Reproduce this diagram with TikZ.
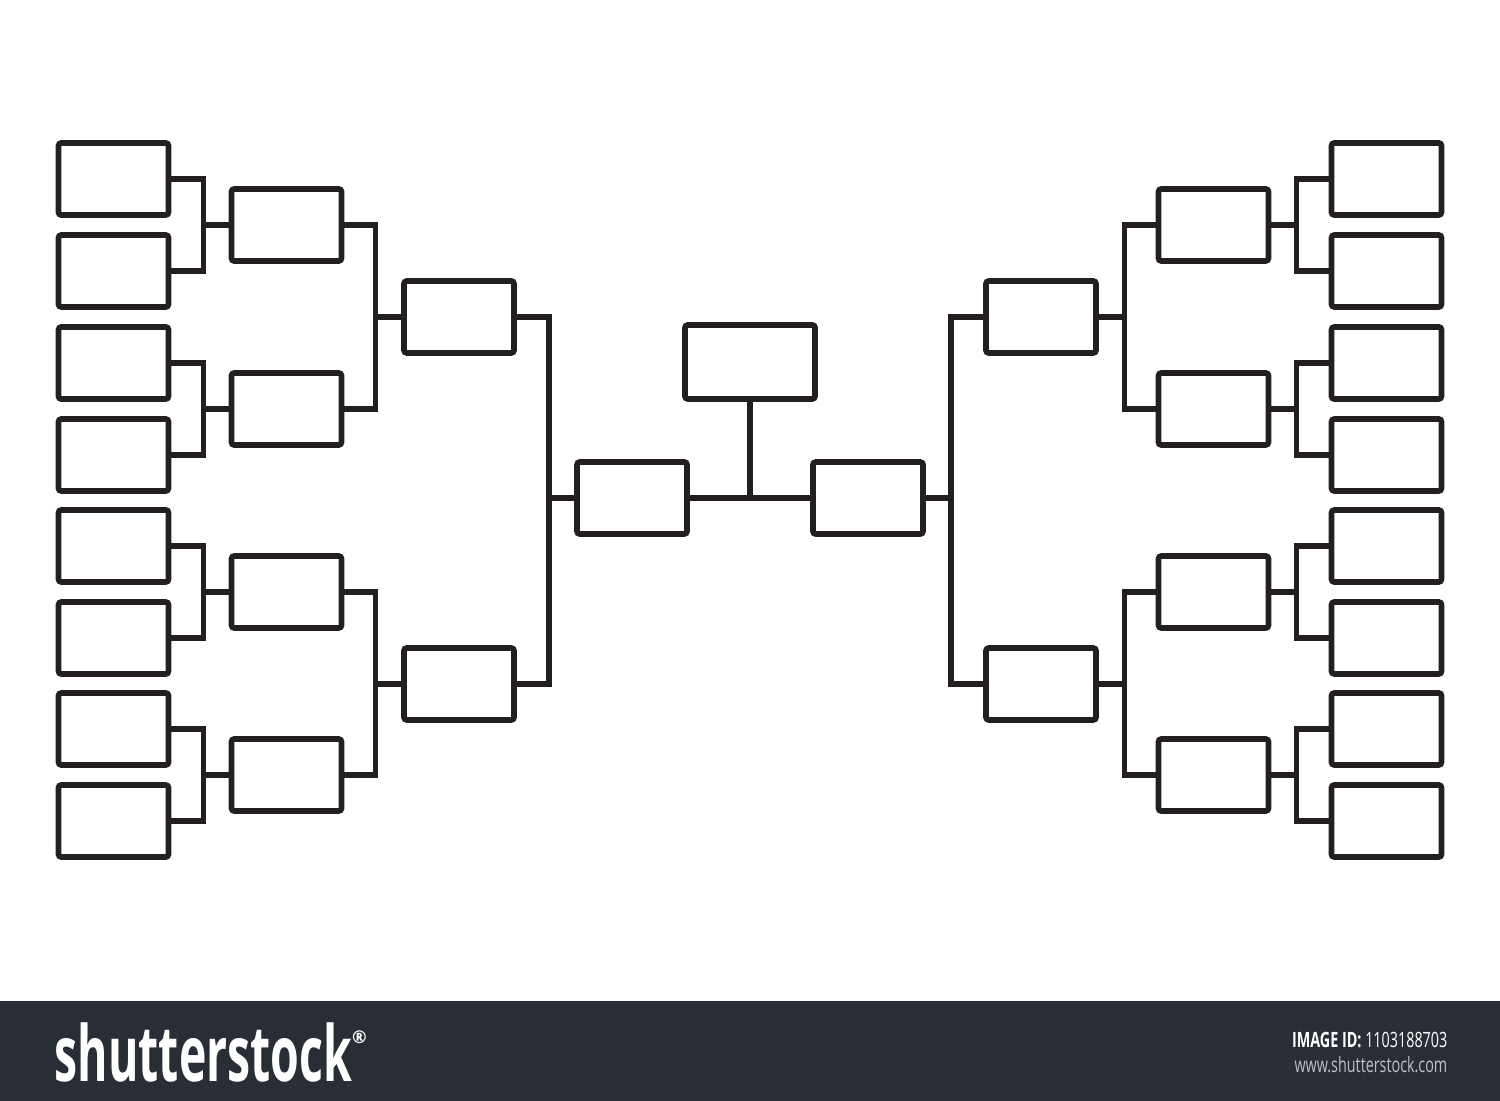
\documentclass[tikz,border=0pt]{standalone}
\usepackage{fontspec}
\setmainfont{Open Sans}
\usetikzlibrary{positioning}
\definecolor{bracketline}{RGB}{35,31,32}
\definecolor{barbg}{RGB}{41,45,54}
\definecolor{urlgray}{RGB}{190,192,196}
\begin{document}
\begin{tikzpicture}[x=0.01cm,y=-0.01cm,
  slot/.style={draw=bracketline,line width=1.6pt,rounded corners=0.8pt,
    minimum width=1.1cm,minimum height=0.72cm,inner sep=0pt},
  wire/.style={draw=bracketline,line width=1.6pt}]
\useasboundingbox (0,0) rectangle (1500,1101);
\fill[barbg] (0,1001) rectangle (1500,1101);

% slots, outer rounds first
\foreach \i/\y in {1/179,2/271,3/363,4/455,5/546,6/638,7/729,8/821} {
  \node[slot] (la\i) at (113.5,\y) {};
  \node[slot] (ra\i) at (1386.5,\y) {};
}
\foreach \i/\y in {1/225,2/409,3/592,4/775} {
  \node[slot] (lb\i) at (286.5,\y) {};
  \node[slot] (rb\i) at (1213.5,\y) {};
}
\foreach \i/\y in {1/317,2/684} {
  \node[slot] (lc\i) at (459,\y) {};
  \node[slot] (rc\i) at (1041,\y) {};
}
\node[slot] (ld) at (632,498) {};
\node[slot] (rd) at (868,498) {};
\node[slot,minimum width=1.3cm,minimum height=0.74cm] (final) at (750,362) {};

% connectors
\foreach \i [evaluate=\i as \j using int(2*\i-1),
             evaluate=\i as \k using int(2*\i)] in {1,...,4} {
  \draw[wire] (la\j.east) -- ++(32,0) coordinate (lv\i) |- (la\k.east);
  \draw[wire] (lb\i.west) -- (lb\i.west -| lv\i);
  \draw[wire] (ra\j.west) -- ++(-32,0) coordinate (rv\i) |- (ra\k.west);
  \draw[wire] (rb\i.east) -- (rb\i.east -| rv\i);
}
\foreach \i [evaluate=\i as \j using int(2*\i-1),
             evaluate=\i as \k using int(2*\i)] in {1,2} {
  \draw[wire] (lb\j.east) -- ++(31,0) coordinate (lw\i) |- (lb\k.east);
  \draw[wire] (lc\i.west) -- (lc\i.west -| lw\i);
  \draw[wire] (rb\j.west) -- ++(-31,0) coordinate (rw\i) |- (rb\k.west);
  \draw[wire] (rc\i.east) -- (rc\i.east -| rw\i);
}
\draw[wire] (lc1.east) -- ++(32,0) coordinate (lx) |- (lc2.east);
\draw[wire] (ld.west) -- (ld.west -| lx);
\draw[wire] (rc1.west) -- ++(-32,0) coordinate (rx) |- (rc2.west);
\draw[wire] (rd.east) -- (rd.east -| rx);
\draw[wire] (ld.east) -- (rd.west);
\draw[wire] (final.south) -- (final.south |- ld.east);

% footer
\node[anchor=west,text=white,inner sep=0pt,
  font=\bfseries\fontsize{22}{22}\selectfont] (logo) at (54,1052)
  {\scalebox{0.6}[1]{shutterstock}\raisebox{0.9ex}{\fontsize{5}{5}\selectfont ®}};
\node[anchor=east,text=white,inner sep=0pt,
  font=\fontsize{6}{7}\selectfont] (imgid) at (1448,1040)
  {\scalebox{0.68}[1]{\textbf{IMAGE ID:} 1103188703}};
\node[anchor=east,text=urlgray,inner sep=0pt,
  font=\fontsize{6}{7}\selectfont] (url) at (1448,1065)
  {\scalebox{0.68}[1]{www.shutterstock.com}};
\end{tikzpicture}
\end{document}
